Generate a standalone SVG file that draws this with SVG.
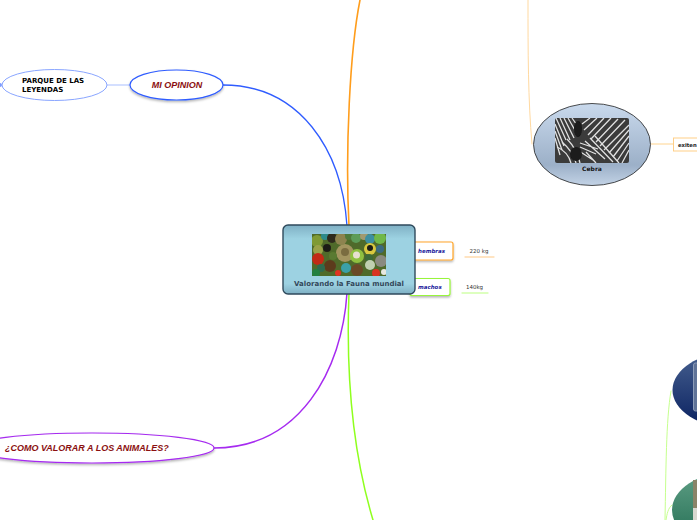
<svg xmlns="http://www.w3.org/2000/svg" width="697" height="520" viewBox="0 0 697 520">
<style>
text{font-family:"DejaVu Sans",sans-serif}
.c{fill:none;stroke-linecap:round}
.t{font-family:"Liberation Sans",Arial,sans-serif;font-weight:bold;font-style:italic;font-size:9px;fill:#8b1010}
.s{font-weight:bold;font-style:italic;font-size:5.500px;fill:#1a1a9c}
.v{font-size:5.500px;fill:#333}
</style>
<defs>
<linearGradient id="g0" x1="0" y1="0" x2="0" y2="1"><stop offset="0" stop-color="#7fb0c4"/><stop offset=".2" stop-color="#9dd2e2"/><stop offset=".85" stop-color="#9dd2e2"/><stop offset="1" stop-color="#7fb0c4"/></linearGradient>
<linearGradient id="g1" x1="0" y1="0" x2="0" y2="1"><stop offset="0" stop-color="#c9d9ec"/><stop offset=".75" stop-color="#9cb0c8"/><stop offset="1" stop-color="#c3d3e6"/></linearGradient>
<linearGradient id="g2" x1="0" y1="0" x2="0" y2="1"><stop offset="0" stop-color="#46608f"/><stop offset="1" stop-color="#0a2160"/></linearGradient>
<linearGradient id="g3" x1="0" y1="0" x2="0" y2="1"><stop offset="0" stop-color="#5f9f85"/><stop offset="1" stop-color="#1f6a50"/></linearGradient>
<filter id="sh" x="-10%" y="-20%" width="120%" height="150%"><feDropShadow dx="0" dy="1.500" stdDeviation="1.200" flood-color="#000" flood-opacity=".3"/></filter>
<filter id="b" x="0" y="0" width="100%" height="100%"><feGaussianBlur stdDeviation=".35"/></filter>
<clipPath id="za"><rect x="555" y="118" width="74" height="45" rx="2"/></clipPath>
<clipPath id="ma"><rect x="312" y="234" width="74" height="42"/></clipPath>
</defs>
<g id="connectors">
<path class="c" stroke="#2f5cff" stroke-width="1.300" d="M347 226C342 150 300 85 223 85"/>
<path class="c" stroke="#ff9d1c" stroke-width="1.600" d="M349 226C345 150 350 50 360 0"/>
<path class="c" stroke="#a62bf0" stroke-width="1.500" d="M347 293C342 370 300 448 214 448"/>
<path class="c" stroke="#8fff1e" stroke-width="1.500" d="M349 293C346 370 352 450 373 520"/>
<path class="c" stroke="#a9c0ff" stroke-width="1.200" d="M107 85H130"/>
<path class="c" stroke="#ffd9a0" stroke-width="1" d="M532 144C528 100 528 50 528 0"/>
<path class="c" stroke="#ffd48f" stroke-width="1" d="M651 144H673"/>
<path class="c" stroke="#c6ff8e" stroke-width="1" d="M671 391C666 420 666 470 665 520"/>
<path class="c" stroke="#c6ff8e" stroke-width="1" d="M672 505C668 508 667 514 666 520"/>
<path class="c" stroke="#ffdcae" stroke-width="1.300" d="M465 257H494"/>
<path class="c" stroke="#d2ffaa" stroke-width="1.300" d="M462 293H488"/>
</g>
<g id="n-parque"><ellipse cx="54.500" cy="85" rx="52.500" ry="15.500" fill="#fff" stroke="#8aa6ff"/><text x="22" y="82.500" font-size="7" font-weight="bold" fill="#000">PARQUE DE LAS</text><text x="22" y="92" font-size="7" font-weight="bold" fill="#000">LEYENDAS</text></g>
<circle cx="0" cy="85" r="2" fill="#7f9cff"/>
<g id="n-opinion"><ellipse cx="176.500" cy="85" rx="46.500" ry="15" fill="#fff" stroke="#2f5cff" stroke-width="1.200" filter="url(#sh)"/><text class="t" x="177" y="88" text-anchor="middle">MI OPINION</text></g>
<g id="n-valorar"><ellipse cx="92" cy="448" rx="122" ry="15" fill="#fff" stroke="#a62bf0" stroke-width="1.200" filter="url(#sh)"/><text class="t" x="5" y="451">¿COMO VALORAR A LOS ANIMALES?</text></g>
<g id="n-hembras"><rect x="410" y="242" width="43" height="18" rx="2" fill="#fff" stroke="#ffa52a" stroke-width="1.200" filter="url(#sh)"/><text class="s" x="418" y="253">hembras</text></g>
<g id="n-machos"><rect x="410" y="278.500" width="40" height="17" rx="2" fill="#fff" stroke="#98f53a" stroke-width="1.200" filter="url(#sh)"/><text class="s" x="418" y="289">machos</text></g>
<g id="n-220"><text class="v" x="479" y="253" text-anchor="middle">220 kg</text></g>
<g id="n-140"><text class="v" x="474.500" y="289" text-anchor="middle">140kg</text></g>
<g id="n-center">
<rect x="283" y="225" width="132" height="69" rx="5" fill="url(#g0)" stroke="#2f4a5c" stroke-width="1.400"/>
<g clip-path="url(#ma)"><g filter="url(#b)">
<rect x="312" y="234" width="74" height="42" fill="#4f6a2c"/>
<circle cx="317" cy="241" r="6" fill="#7f9a35"/><circle cx="325" cy="236" r="4" fill="#2f8a8a"/><circle cx="332" cy="238" r="5" fill="#2d2a1e"/><circle cx="341" cy="239" r="6" fill="#8d8350"/><circle cx="349" cy="236" r="4" fill="#4f7a3a"/><circle cx="356" cy="238" r="5" fill="#5d9c58"/><circle cx="364" cy="236" r="4" fill="#a09a70"/><circle cx="370" cy="239" r="5" fill="#3c8fa0"/><circle cx="380" cy="238" r="6" fill="#70b84a"/>
<circle cx="318" cy="250" r="5" fill="#9aa24a"/><circle cx="327" cy="248" r="4" fill="#1f1c14"/><circle cx="318" cy="259" r="6" fill="#c22a18"/><circle cx="345" cy="253" r="9" fill="#a39560"/><circle cx="345" cy="252" r="4" fill="#7a6c40"/><circle cx="333" cy="256" r="4" fill="#5a7a30"/><circle cx="357" cy="256" r="7" fill="#8fc040"/><circle cx="356.500" cy="255" r="3.500" fill="#e8e0d0"/><circle cx="370" cy="249" r="6" fill="#d8c840"/><circle cx="370" cy="248" r="3" fill="#1b1b14"/><circle cx="380" cy="249" r="4" fill="#3b6a80"/><circle cx="381" cy="261" r="6" fill="#8a8a80"/><circle cx="369" cy="258" r="4" fill="#3d6a38"/>
<circle cx="330" cy="266" r="6" fill="#5c3b1f"/><circle cx="321" cy="268" r="4" fill="#2f6a50"/><circle cx="346" cy="268" r="5" fill="#3aa0a8"/><circle cx="357" cy="270" r="6" fill="#6b4a28"/><circle cx="370" cy="265" r="5" fill="#c0d0b0"/><circle cx="376" cy="273" r="4" fill="#d83020"/><circle cx="338" cy="273" r="3" fill="#e03020"/><circle cx="316" cy="273" r="4" fill="#208040"/><circle cx="384" cy="272" r="3" fill="#e8e8e0"/>
</g></g>
<text x="349" y="285.500" text-anchor="middle" font-size="7" font-weight="bold" fill="#33475a">Valorando la Fauna mundial</text>
</g>
<g id="n-cebra">
<ellipse cx="592" cy="144.500" rx="58.500" ry="41" fill="url(#g1)" stroke="#222" stroke-width=".8"/>
<g clip-path="url(#za)"><g filter="url(#b)">
<rect x="555" y="118" width="74" height="45" fill="#3a3a3a"/>
<g fill="none" stroke="#e0e0e0" stroke-width="1.300">
<path d="M556 118L566 140M560 118L570 140M564 118L574 138M568 118L576 132M572 118L579 128M555 124L564 146M555 131L562 150M555 138L560 155"/>
<path d="M557 147C564 150 569 156 571 163M562 142C569 148 574 155 576 163M567 139C574 146 578 154 580 163"/>
<path d="M582 124L590 118M584 130L597 118M588 135L604 118M591 139L611 118M596 142L618 119M600 146L625 120M604 150L629 125M609 153L629 130M613 157L629 136M617 161L629 143M622 163L629 150"/>
<path d="M580 143L598 149M580 147L596 154M579 151L593 160M585 141L605 159M590 138L613 162M595 136L619 163M586 152L596 163"/>
</g>
<ellipse cx="576" cy="154" rx="6" ry="7" fill="#1a1a1a"/><ellipse cx="578" cy="129" rx="4" ry="8" fill="#1a1a1a"/>
</g></g>
<text x="592" y="170.500" text-anchor="middle" font-size="6" font-weight="bold" fill="#111">Cebra</text>
</g>
<g id="n-exiten"><rect x="673.500" y="138" width="30" height="13" fill="#fff" stroke="#ffcf87" stroke-width="1"/><text x="678" y="147" font-size="5.300" font-weight="bold" fill="#222">exiten</text></g>
<g id="n-azul"><ellipse cx="731.500" cy="390" rx="59" ry="37.500" fill="url(#g2)"/><rect x="693.500" y="363" width="40" height="48" rx="2" fill="#5f7398" stroke="#8c9cb8"/></g>
<g id="n-verde"><ellipse cx="731" cy="510" rx="59" ry="38" fill="url(#g3)"/><rect x="693" y="480" width="40" height="50" fill="#8a8468"/><rect x="693" y="508" width="5" height="12" fill="#d8d8d0"/></g>
</svg>
